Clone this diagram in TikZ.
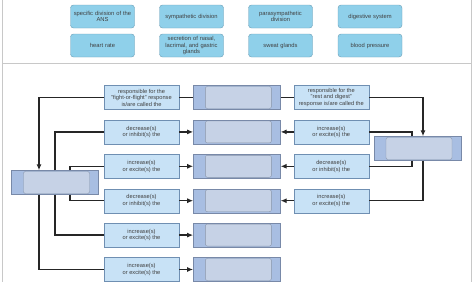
\documentclass[tikz,border=0pt]{standalone}
\usepackage{fontspec}
\setmainfont{Liberation Sans}
\usepackage{tikz}
\usetikzlibrary{arrows.meta,positioning}

\definecolor{chipfill}{HTML}{8FD0EA}
\definecolor{chipline}{HTML}{6A9DB5}
\definecolor{txtfill}{HTML}{C8E2F6}
\definecolor{txtline}{HTML}{6F8FB2}
\definecolor{slotfill}{HTML}{A8BEE2}
\definecolor{slotline}{HTML}{7889A8}
\definecolor{innerfill}{HTML}{C6D2E6}
\definecolor{innerline}{HTML}{8A96AA}
\definecolor{framegray}{HTML}{C8C8C8}

\begin{document}
\begin{tikzpicture}[
  x=1pt, y=-1pt,
  chip/.style={rectangle, rounded corners=3pt, draw=chipline, fill=chipfill, thin,
               minimum width=63pt, minimum height=23pt, inner sep=1pt, align=center,
               text width=62pt, font=\fontsize{5.8}{6.5}\selectfont, text=black!75},
  txt/.style={rectangle, draw=txtline, fill=txtfill, thin,
              minimum width=75pt, minimum height=24pt, inner sep=1pt, align=center,
              font=\fontsize{5.7}{6.5}\selectfont, text=black!75},
  slot/.style={rectangle, draw=slotline, fill=slotfill, thin,
               minimum width=87pt, minimum height=24pt,
               path picture={\draw[draw=innerline, fill=innerfill, rounded corners=2pt]
                 ([shift={(12pt,1pt)}]path picture bounding box.south west) rectangle
                 ([shift={(-9pt,-1pt)}]path picture bounding box.north east);}},
  line/.style={line width=1.4pt, black!85},
  arr/.style={line, -{Latex[length=6pt, width=5pt]}}
]
\useasboundingbox (0,0) rectangle (474,282);
% frame
\draw[framegray, line width=1pt] (2.5,0) -- (2.5,282);
\draw[framegray, line width=1pt] (471.5,0) -- (471.5,282);
\draw[framegray, line width=1pt] (2.5,63) -- (471.5,63);

% answer chips
\node[chip] (c1) at (102.5,16.5) {specific division of the\\ANS};
\node[chip] (c2) at (191.5,16.5) {sympathetic division};
\node[chip] (c3) at (280.5,16.5) {parasympathetic\\division};
\node[chip] (c4) at (370,16.5)   {digestive system};
\node[chip] (c5) at (102.5,45.5) {heart rate};
\node[chip] (c6) at (191.5,45.5) {secretion of nasal,\\lacrimal, and gastric\\glands};
\node[chip] (c7) at (280.5,45.5) {sweat glands};
\node[chip] (c8) at (370,45.5)   {blood pressure};

% left column
\node[txt] (l1) at (141.5,97.5) {responsible for the\\"fight-or-flight" response\\is/are called the};
\node[txt, below=10pt of l1] (l2) {decrease(s)\\or inhibit(s) the};
\node[txt, below=10pt of l2] (l3) {increase(s)\\or excite(s) the};
\node[txt, below=10pt of l3] (l4) {decrease(s)\\or inhibit(s) the};
\node[txt, below=10pt of l4] (l5) {increase(s)\\or excite(s) the};
\node[txt, below=10pt of l5] (l6) {increase(s)\\or excite(s) the};

% middle column
\node[slot, right=14pt of l1] (m1) {};
\node[slot, right=14pt of l2] (m2) {};
\node[slot, right=14pt of l3] (m3) {};
\node[slot, right=14pt of l4] (m4) {};
\node[slot, right=14pt of l5] (m5) {};
\node[slot, right=14pt of l6] (m6) {};

% right column
\node[txt, right=13pt of m1] (r1) {responsible for the\\"rest and digest"\\response is/are called the};
\node[txt, right=13pt of m2] (r2) {increase(s)\\or excite(s) the};
\node[txt, right=13pt of m3] (r3) {decrease(s)\\or inhibit(s) the};
\node[txt, right=13pt of m4] (r4) {increase(s)\\or excite(s) the};

% division slots
\node[slot] (lt) at (55,182.5) {};
\node[slot] (rt) at (417.5,148.5) {};

% connectors
\draw[line] (l1) -- (m1);
\draw[line] (m1) -- (r1);
\draw[arr] (l1.west) -| ([xshift=-16pt]lt.north);
\draw[arr] (r1.east) -| ([xshift=5.5pt]rt.north);

\draw[line] (lt.north) |- (l2.west);
\draw[line] ([xshift=15pt]lt.north) |- (l3.west);
\draw[line] ([xshift=15pt]lt.south) |- (l4.west);
\draw[line] (lt.south) |- (l5.west);
\draw[line] ([xshift=-16pt]lt.south) |- (l6.west);

\draw[line] ([xshift=-5.5pt]rt.north) |- (r2.east);
\draw[line] ([xshift=-5.5pt]rt.south) |- (r3.east);
\draw[line] ([xshift=5.5pt]rt.south) |- (r4.east);

\draw[arr] (l2) -- (m2);
\draw[arr] (l3) -- (m3);
\draw[arr] (l4) -- (m4);
\draw[arr] (l5) -- (m5);
\draw[arr] (l6) -- (m6);
\draw[arr] (r2) -- (m2);
\draw[arr] (r3) -- (m3);
\draw[arr] (r4) -- (m4);
\end{tikzpicture}
\end{document}
